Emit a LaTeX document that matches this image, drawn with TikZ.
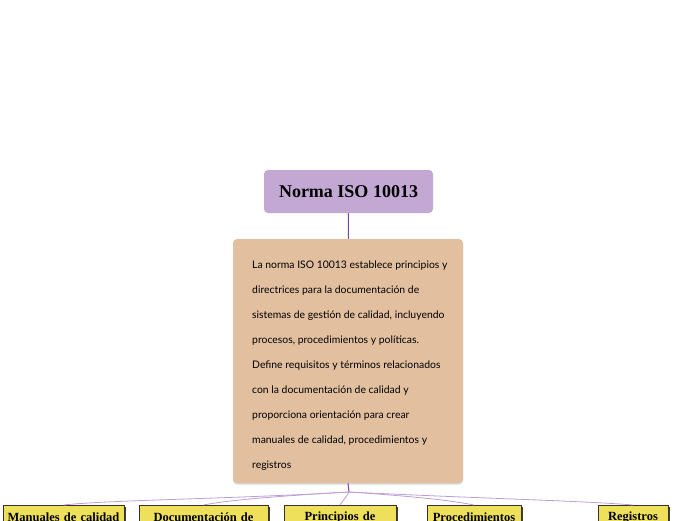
\documentclass[tikz,border=0pt]{standalone}
\usepackage{fontspec}
\setmainfont{Liberation Serif}
\newfontfamily\descfont{Lato}
\usetikzlibrary{shadows}
\definecolor{titlepurple}{HTML}{C3A8D3}
\definecolor{descbrown}{HTML}{E2BF9F}
\definecolor{leafyellow}{HTML}{EFE05C}
\definecolor{linkpurple}{HTML}{7E45A8}
\definecolor{branchpurple}{HTML}{BBA0D4}
\tikzset{
  titlebox/.style={fill=titlepurple,rounded corners=4pt,minimum width=169pt,minimum height=43pt,
    font=\bfseries\fontsize{18}{20}\selectfont},
  descbox/.style={fill=descbrown,rounded corners=4pt,minimum width=230pt,minimum height=244pt,
    drop shadow={shadow xshift=0pt,shadow yshift=-1.5pt,opacity=.3}},
  desctext/.style={inner sep=0pt,align=left,font=\descfont\fontsize{10.4}{25}\selectfont},
  leafbox/.style={fill=leafyellow,draw=black!80,line width=.4pt,anchor=north,align=center,
    inner xsep=4pt,inner ysep=3pt,minimum height=24pt,font=\bfseries\fontsize{12.5}{13}\selectfont,
    drop shadow={shadow xshift=1.5pt,shadow yshift=-1.5pt,fill=black!75,opacity=1}},
  branch/.style={branchpurple,line width=.8pt}
}
\begin{document}
\begin{tikzpicture}[x=1pt,y=-1pt]
\useasboundingbox (0,0) rectangle (696,520);
%\draw[step=50,gray,very thin] (0,0) grid (696,520);
\node[titlebox] (norma) at (348.5,191.5) {Norma ISO 10013};
\node[descbox] (desc) at (348,361) {};
\node[desctext,anchor=north west] (desctxt) at (252,261) {La norma ISO 10013 establece principios y\\
directrices para la documentación de\\
sistemas de gestión de calidad, incluyendo\\
procesos, procedimientos y políticas.\\
Define requisitos y términos relacionados\\
con la documentación de calidad y\\
proporciona orientación para crear\\
manuales de calidad, procedimientos y\\
registros};
\draw[linkpurple,line width=1pt] (norma) -- (desc);
\coordinate (hub) at (349,492);
\draw[linkpurple,line width=1pt] (desc.south) -- (hub);
\node[leafbox,text width=113pt] (manuales) at (63.5,505) {Manuales de calidad};
\node[leafbox,text width=121pt] (documentacion) at (203.5,505) {Documentación de};
\node[leafbox,text width=104pt] (principios) at (340,505) {Principios de};
\node[leafbox,text width=86pt] (procedimientos) at (474,505) {Procedimientos};
\node[leafbox,text width=62pt] (registros) at (633,505) {Registros};
\draw[branch] (hub) .. controls +(-120,7) and +(45,-5) .. (manuales.north);
\draw[branch] (hub) .. controls +(-70,4) and +(25,-5) .. (documentacion.north);
\draw[branch] (hub) .. controls +(-3,6) and +(3,-5) .. (principios.north);
\draw[branch] (hub) .. controls +(60,4) and +(-25,-5) .. (procedimientos.north);
\draw[branch] (hub) .. controls +(120,6) and +(-45,-4) .. (registros.north);
\end{tikzpicture}
\end{document}
